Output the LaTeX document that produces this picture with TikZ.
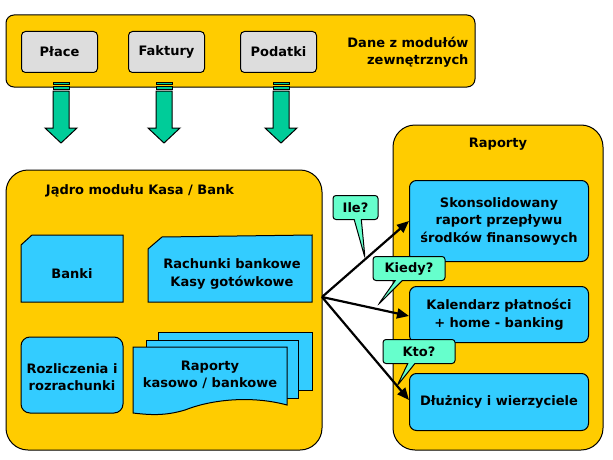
\documentclass[tikz,border=0pt]{standalone}
\usepackage{fontspec}
\setmainfont{DejaVu Sans}
\usetikzlibrary{shapes.callouts,arrows.meta}
\definecolor{ylw}{RGB}{255,204,0}
\definecolor{blu}{RGB}{51,204,255}
\definecolor{gry}{RGB}{221,221,221}
\definecolor{grn}{RGB}{0,204,153}
\definecolor{aqu}{RGB}{102,255,204}
\tikzset{
  every path/.style={line width=1pt},
  txt/.style={font=\bfseries\fontsize{13}{17.5}\selectfont, align=center, text=black, inner sep=0pt},
  panel/.style={draw=black, fill=ylw, rounded corners=8pt},
  grey/.style={draw=black, fill=gry, rounded corners=4pt, txt, minimum width=76pt, minimum height=41pt, anchor=north west},
  bluebox/.style={draw=black, fill=blu, rounded corners=7pt, txt, minimum width=179pt, anchor=north west},
  sheet/.style={draw=black, fill=blu},
  bubble/.style={rectangle callout, draw=black, fill=aqu, rounded corners=3pt, txt, inner sep=2pt, minimum height=24pt},
  conn/.style={-{Triangle[length=12pt,width=10pt]}, line width=2.2pt},
  garrow/.style={draw=black, fill=grn},
}
\begin{document}
\begin{tikzpicture}[x=1pt,y=-1pt]
\useasboundingbox (0,0) rectangle (613,460);
% top panel
\draw[panel] (6,15) rectangle (475,87);
\node[grey] (place) at (21,31) {Płace};
\node[grey] (fakt) at (128,31) {Faktury};
\node[grey] (pod) at (240,31) {Podatki};
\node[txt, align=right, anchor=east] (dane) at (469,52) {Dane z modułów\\zewnętrznych};
% core panel
\draw[panel, rounded corners=22pt] (6,170) rectangle (322,450);
\node[txt] (jadro) at (140,191) {Jądro modułu Kasa / Bank};
% green arrows
\foreach \cx in {61,164,281}{
  \draw[garrow] (\cx-8,82) rectangle (\cx+8,84);
  \draw[garrow] (\cx-8,86) rectangle (\cx+8,89);
  \draw[garrow] (\cx-8,91) -- (\cx+8,91) -- (\cx+8,128) -- (\cx+16,128) -- (\cx,143) -- (\cx-16,128) -- (\cx-8,128) -- cycle;
}
% Banki
\draw[sheet] (21,245) -- (32,235) -- (123,235) -- (123,302) -- (21,302) -- cycle;
\node[txt] (banki) at (72,274) {Banki};
% Rachunki
\draw[sheet] (148,249) -- (162,237) -- (312,235) -- (312,302) -- (148,302) -- cycle;
\node[txt] (rach) at (232,274) {Rachunki bankowe\\Kasy gotówkowe};
% Rozliczenia
\draw[sheet, rounded corners=9pt] (21,337) rectangle (123,413);
\node[txt] (rozl) at (72,377) {Rozliczenia i\\rozrachunki};
% Raporty stack
\draw[sheet] (158,332) rectangle (312,390);
\draw[sheet] (146,340) rectangle (298,398);
\draw[sheet] (133,347) -- (287,347) -- (287,405) .. controls (250,395) and (210,400) .. (185,410) .. controls (165,416) and (150,415) .. (133,413) -- cycle;
\node[txt] (rapk) at (210,375) {Raporty\\kasowo / bankowe};
% Raporty panel
\draw[panel, rounded corners=22pt] (393,125) rectangle (603,450);
\node[txt] (rap) at (498,144) {Raporty};
\node[bluebox, minimum height=81pt] (b1) at (409,180) {Skonsolidowany\\raport przepływu\\środków finansowych};
\node[bluebox, minimum height=56pt] (b2) at (409,286) {Kalendarz płatności\\+ home - banking};
\node[bluebox, minimum height=57pt] (b3) at (409,373) {Dłużnicy i wierzyciele};
% connectors
\coordinate (src) at (322,297);
\draw[conn] (src) -- (b1.west |- 0,221);
\draw[conn] (src) -- (b2.west |- 0,316);
\draw[conn] (src) -- (b3.west |- 0,400);
% callouts
\node[bubble, minimum width=45pt, callout absolute pointer={(365,258)}] (ile) at (355.5,207.5) {Ile?};
\node[bubble, minimum width=72pt, callout absolute pointer={(378,305)}] (kiedy) at (409,268.5) {Kiedy?};
\node[bubble, minimum width=72pt, callout absolute pointer={(397,386)}] (kto) at (419,351.5) {Kto?};
\end{tikzpicture}
\end{document}
